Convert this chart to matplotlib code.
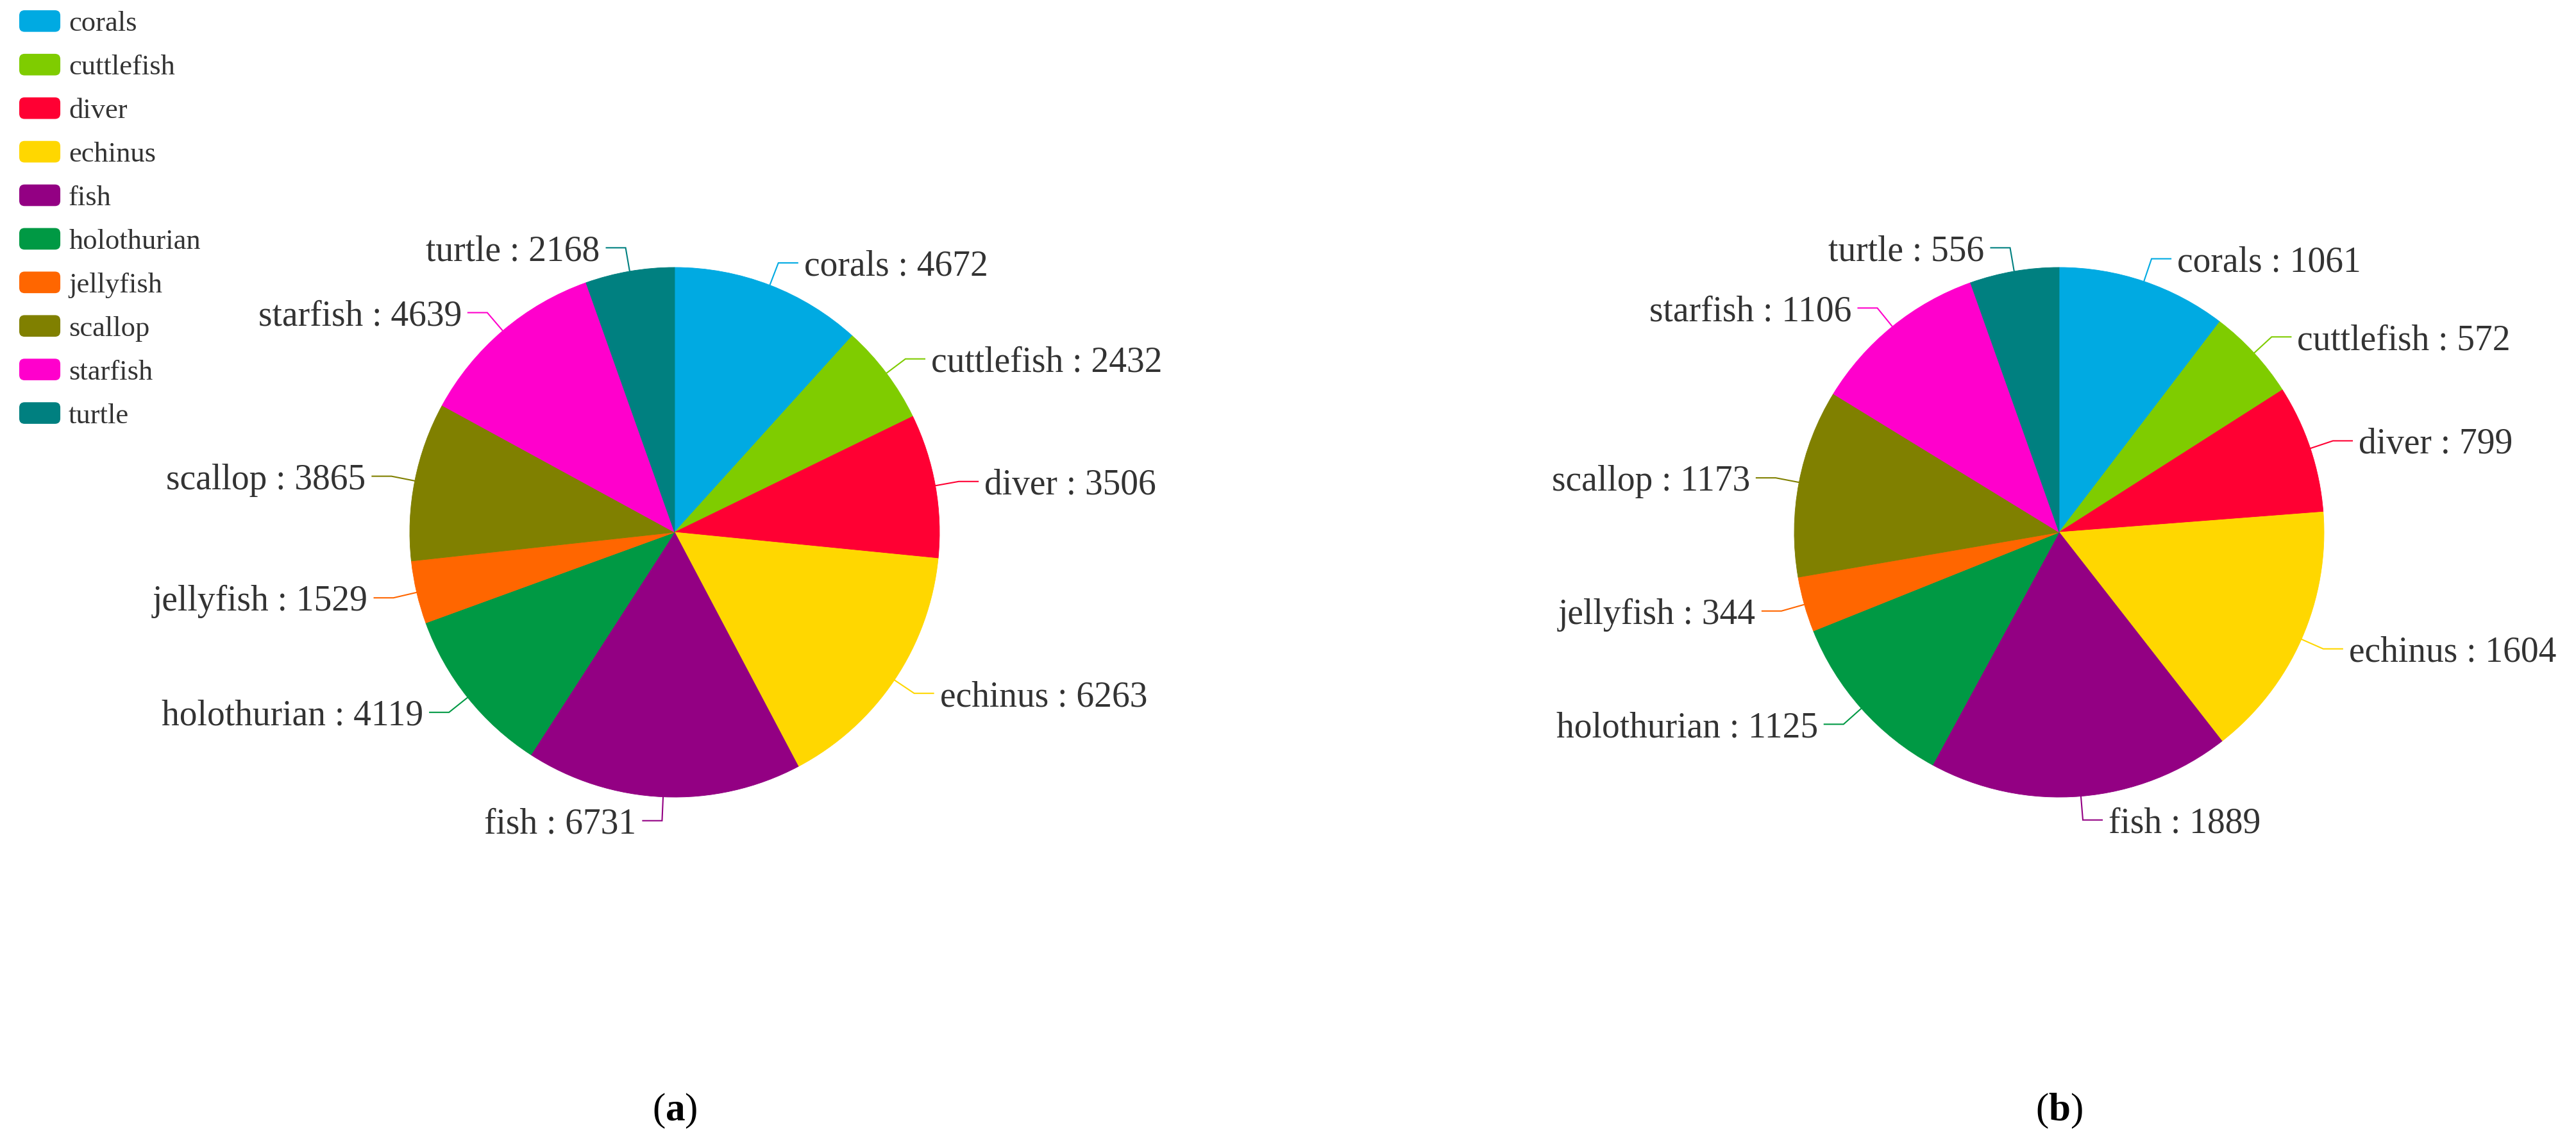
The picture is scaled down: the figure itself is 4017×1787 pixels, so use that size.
import numpy as np
import matplotlib
matplotlib.use("Agg")
import matplotlib.pyplot as plt
from matplotlib.patches import FancyBboxPatch, Patch
from matplotlib.legend_handler import HandlerPatch

plt.rcParams['font.family'] = ['Liberation Serif', 'DejaVu Serif']
plt.rcParams['mathtext.fontset'] = 'custom'
plt.rcParams['mathtext.rm'] = 'Liberation Serif'
plt.rcParams['mathtext.bf'] = 'Liberation Serif:bold'

# ---- data ----
categories = ["corals", "cuttlefish", "diver", "echinus", "fish",
              "holothurian", "jellyfish", "scallop", "starfish", "turtle"]
values_a = [4672, 2432, 3506, 6263, 6731, 4119, 1529, 3865, 4639, 2168]
values_b = [1061, 572, 799, 1604, 1889, 1125, 344, 1173, 1106, 556]
colors = ["#00AAE2", "#7FCC00", "#FF0033", "#FFD700", "#930083",
          "#009944", "#FF6600", "#808000", "#FF00CC", "#008080"]
panel_labels = ["a", "b"]

W, H = 4017, 1787
fig = plt.figure(figsize=(W / 100, H / 100), dpi=100)
ax = fig.add_axes([0, 0, 1, 1])

R = 413
centers = [(1052, H - 830), (3211, H - 830)]
TXT = "#333333"


def draw_pie(values, center):
    wedges, _ = ax.pie(values, colors=colors, startangle=90, counterclock=False,
                       radius=R, center=center,
                       wedgeprops=dict(linewidth=0.6, edgecolor=None))
    for w, c in zip(wedges, colors):
        w.set_edgecolor(c)
    total = float(sum(values))
    cum = np.cumsum([0] + list(values))
    for i, v in enumerate(values):
        frac = (cum[i] + v / 2.0) / total
        th = 2 * np.pi * frac
        dx, dy = np.sin(th), np.cos(th)
        p0 = (center[0] + R * dx, center[1] + R * dy)
        p1 = (center[0] + 1.09 * R * dx, center[1] + 1.09 * R * dy)
        side = 1 if dx >= 0 else -1
        p2 = (p1[0] + side * 30, p1[1])
        ax.plot([p0[0], p1[0], p2[0]], [p0[1], p1[1], p2[1]],
                color=colors[i], lw=1.5, solid_joinstyle='miter', zorder=3)
        ax.text(p2[0] + side * 10, p2[1], f"{categories[i]} : {v}",
                ha='left' if side > 0 else 'right', va='center_baseline',
                fontsize=40, color=TXT)


draw_pie(values_a, centers[0])
draw_pie(values_b, centers[1])

for lab, c in zip(panel_labels, centers):
    ax.text(c[0], H - 1732, r"$\mathrm{(}\mathbf{" + lab + r"}\mathrm{)}$",
            ha='center', va='center', fontsize=44, color='black')


class RoundHandler(HandlerPatch):
    def create_artists(self, legend, orig_handle, xdescent, ydescent,
                       width, height, fontsize, trans):
        p = FancyBboxPatch((-xdescent, -ydescent), width, height,
                           boxstyle="round,pad=0,rounding_size=6",
                           facecolor=orig_handle.get_facecolor(),
                           edgecolor='none', transform=trans)
        return [p]


handles = [Patch(facecolor=c, label=n) for c, n in zip(colors, categories)]
leg = ax.legend(handles=handles, loc='upper left', bbox_to_anchor=(30 / W, 1 - 16 / H),
                bbox_transform=fig.transFigure, frameon=False, fontsize=32,
                handlelength=64 / 44.4, handleheight=35 / 44.4,
                handletextpad=13 / 44.4, labelspacing=(71 - 44.4) / 44.4,
                borderpad=0, borderaxespad=0,
                handler_map={Patch: RoundHandler()})
for t in leg.get_texts():
    t.set_color(TXT)

ax.set_xlim(0, W)
ax.set_ylim(0, H)
ax.set_aspect('equal')
ax.axis('off')
fig.savefig("out.png", dpi=100, facecolor='white')
